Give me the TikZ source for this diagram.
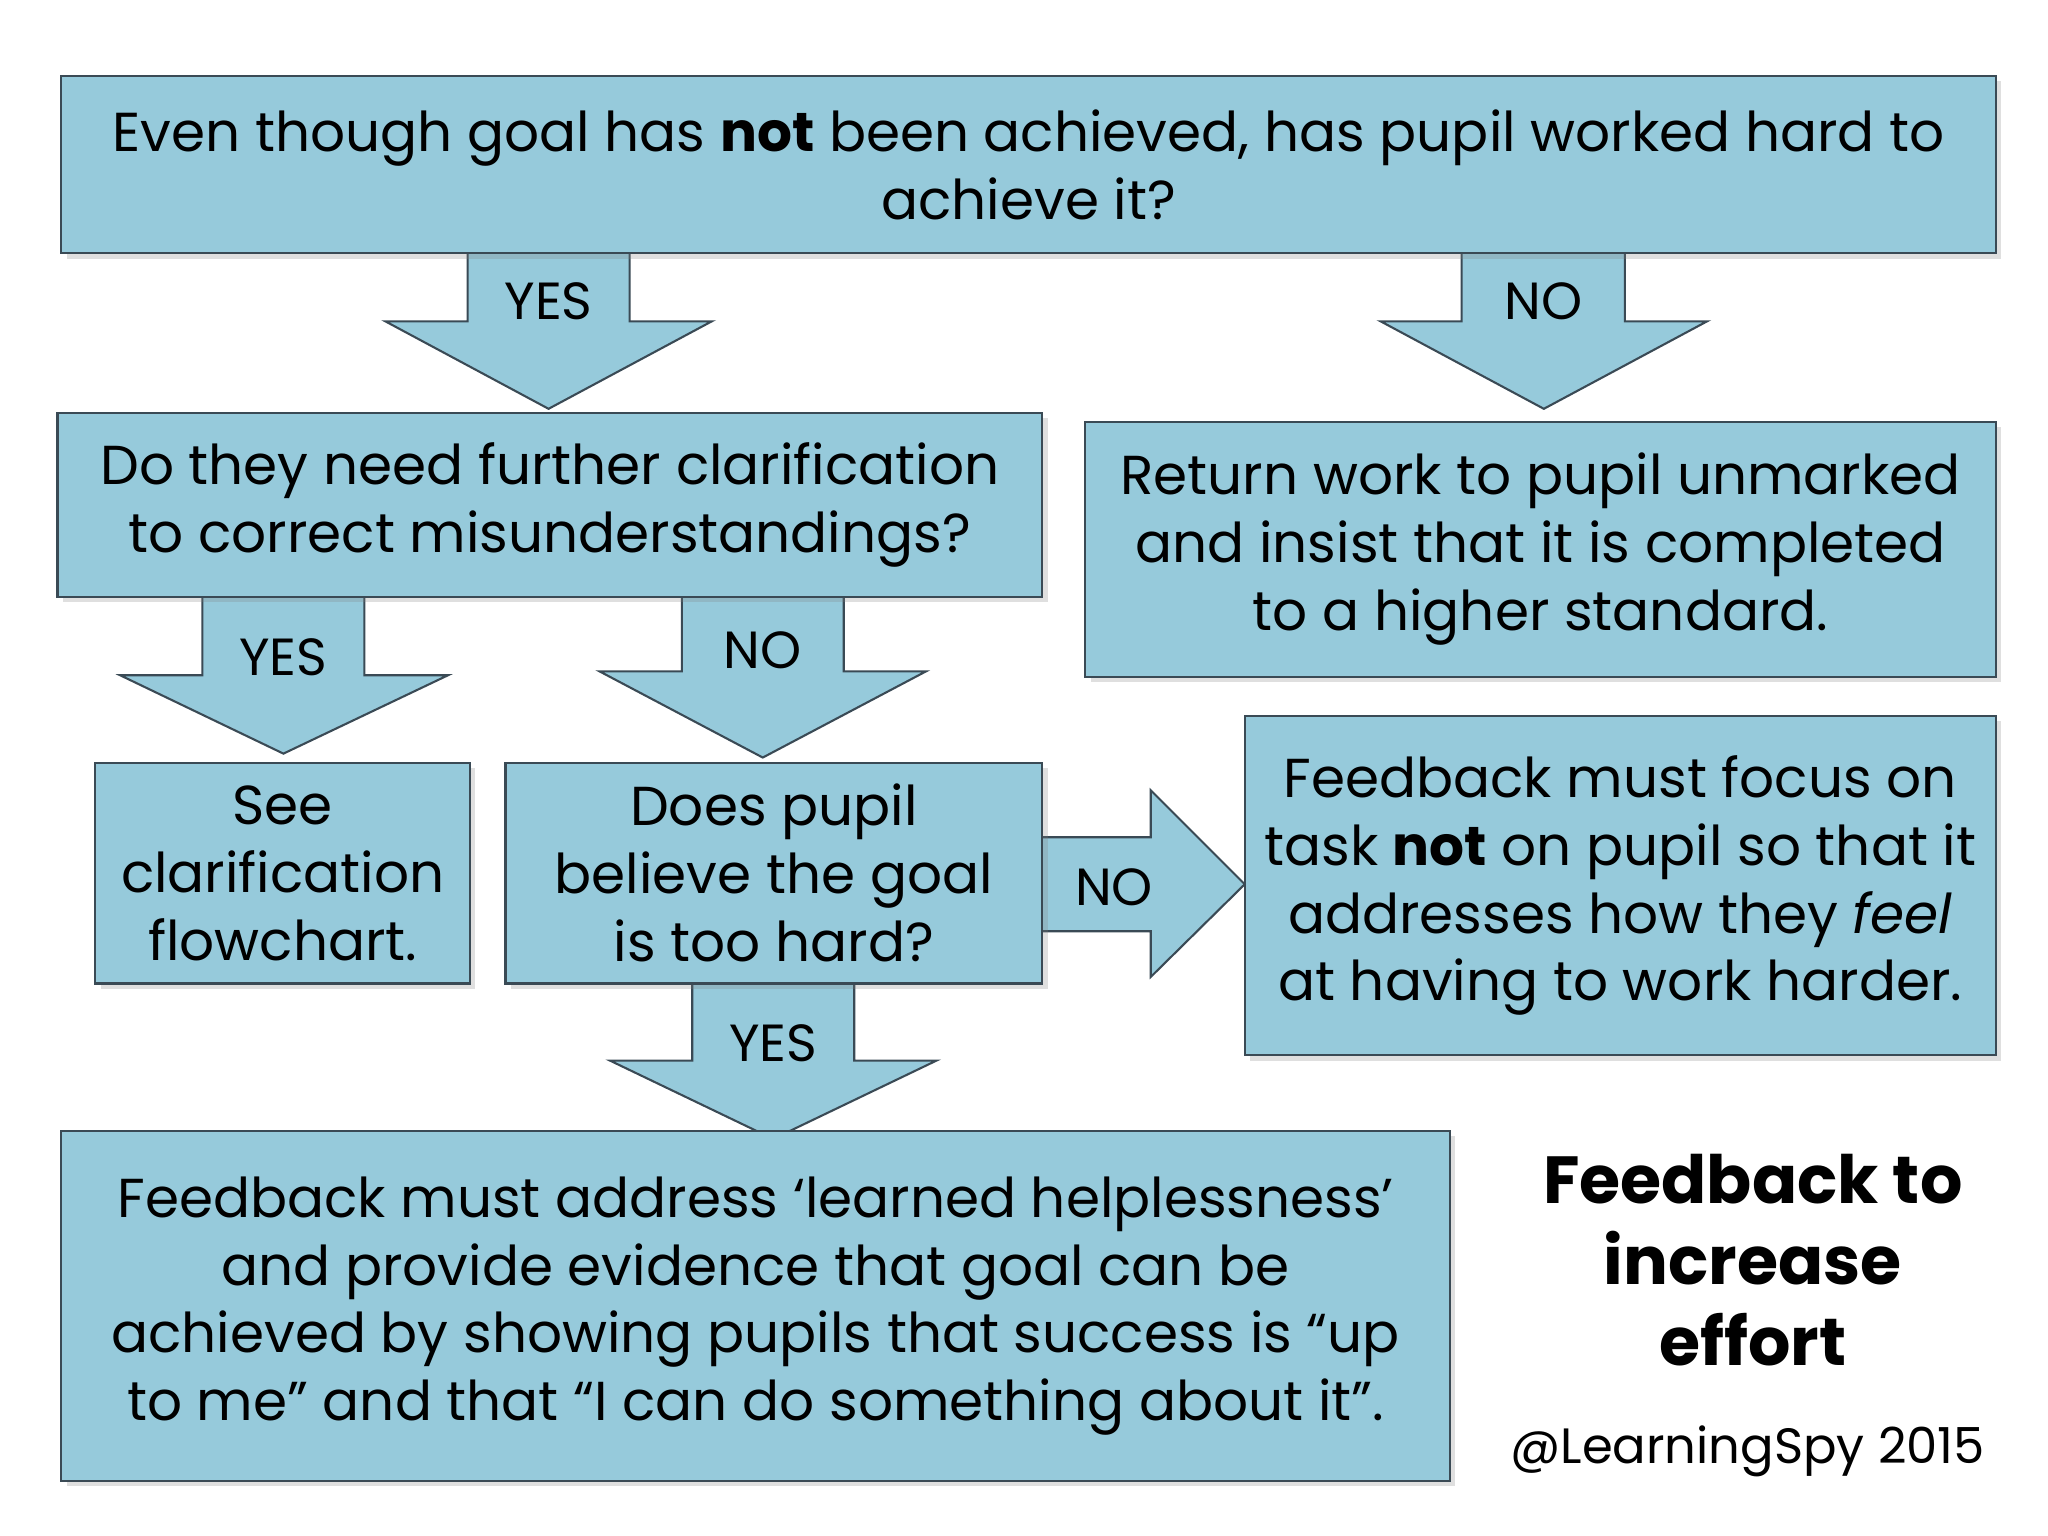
\documentclass[tikz,border=0pt]{standalone}
\usepackage{fontspec}
\setmainfont{Poppins}
\usetikzlibrary{shadows}
\definecolor{bx}{HTML}{96CADB}
\definecolor{ln}{HTML}{3A4A55}
\tikzset{
 box/.style={draw=ln, line width=0.8pt, fill=bx, align=center, inner sep=0pt,
   font=\fontsize{21}{26}\selectfont, drop shadow={opacity=0.25, shadow xshift=2pt, shadow yshift=-2pt}},
 arr/.style={draw=ln, line width=0.8pt, fill=bx},
 lbl/.style={font=\fontsize{20}{24}\selectfont, inner sep=0pt}
}
\begin{document}
\begin{tikzpicture}[x=0.5pt,y=-0.5pt]
\useasboundingbox (0,0) rectangle (1568,1176);
% arrows
\draw[arr] (358,190)--(358,246)--(295,246)--(420,313)--(545,246)--(482,246)--(482,190);
\draw[arr] (1119,190)--(1119,246)--(1057,246)--(1182,313)--(1307,246)--(1244,246)--(1244,190);
\draw[arr] (155,453)--(155,517)--(92,517)--(217,577)--(343,517)--(279,517)--(279,453);
\draw[arr] (522,453)--(522,514)--(459,514)--(584,580)--(709,514)--(646,514)--(646,453);
\draw[arr] (530,749)--(530,812)--(467,812)--(592,872)--(717,812)--(654,812)--(654,749);
\draw[arr] (794,641)--(881,641)--(881,605)--(953,677)--(881,748)--(881,713)--(794,713);
\node[lbl] (y1) at (420,231) {YES};
\node[lbl] (n1) at (1182,231) {NO};
\node[lbl] (y2) at (217,503) {YES};
\node[lbl] (n2) at (584,498) {NO};
\node[lbl] (y3) at (592,799) {YES};
\node[lbl] (n3) at (853,679) {NO};
% boxes
\node[box, minimum width=740.5pt, minimum height=68pt] (top) at (787.5,126)
 {Even though goal has \textbf{not} been achieved, has pupil worked hard to\\achieve it?};
\node[box, minimum width=377pt, minimum height=70.5pt] (b1) at (421,386.5)
 {Do they need further clarification\\to correct misunderstandings?};
\node[box, minimum width=348.5pt, minimum height=97.5pt] (b2) at (1179.5,420.5)
 {Return work to pupil unmarked\\and insist that it is completed\\to a higher standard.};
\node[box, minimum width=143.5pt, minimum height=84.5pt] (b3) at (216.5,668.5)
 {See\\clarification\\flowchart.};
\node[box, minimum width=205.5pt, minimum height=84.5pt] (b4) at (592.5,668.5)
 {Does pupil\\believe the goal\\is too hard?};
\node[box, minimum width=287.5pt, minimum height=130pt] (b5) at (1240.5,678)
 {Feedback must focus on\\task \textbf{not} on pupil so that it\\addresses how they \textit{feel}\\at having to work harder.};
\node[box, minimum width=531.5pt, minimum height=134pt] (b6) at (578.5,1000)
 {Feedback must address ‘learned helplessness’\\and provide evidence that goal can be\\achieved by showing pupils that success is “up\\to me” and that “I can do something about it”.};
\node[align=center, font=\fontsize{25.5}{31}\selectfont\bfseries] (t) at (1342,965)
 {Feedback to\\increase\\effort};
\node[font=\fontsize{19}{24}\selectfont] (c) at (1338,1111) {@LearningSpy 2015};
\end{tikzpicture}
\end{document}
